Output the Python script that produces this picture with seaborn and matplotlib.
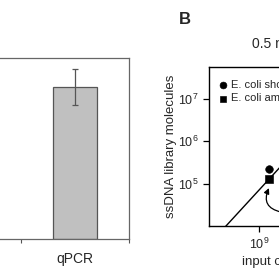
import numpy as np
import pandas as pd
import matplotlib
matplotlib.use("Agg")
import matplotlib.pyplot as plt
import seaborn as sns

# ---- data ----
bar_categories = ["qPCR"]
bar_values = [0.84]
bar_errors = [0.10]

series_names = ["E. coli shotgun", "E. coli amplicon"]
series_x = [1.8e9, 1.8e9]
series_y = [2.2e5, 1.28e5]
series_markers = ["o", "s"]

line_x = [1.0e7, 1.0e13]
line_ratio = 10 ** -4.154
line_y = [v * line_ratio for v in line_x]

sns.set_theme(style="white")
plt.rcParams['font.family'] = ['Liberation Sans', 'DejaVu Sans']

W = H = 279
fig = plt.figure(figsize=(2.79, 2.79), dpi=100)

def box(l, t, r, b):
    return [l / W, (H - b) / H, (r - l) / W, (b - t) / H]

# ---- left panel (bar chart) ----
ax1 = fig.add_axes(box(-87, 58, 129, 239))
df = pd.DataFrame({"cat": bar_categories, "val": bar_values})
sns.barplot(data=df, x="cat", y="val", color="#c0c0c0", edgecolor="#555555",
            linewidth=0.9, width=0.41, ax=ax1, saturation=1, errorbar=None)
ax1.errorbar(np.arange(len(bar_categories)), bar_values, yerr=bar_errors,
             fmt="none", ecolor="#555555", elinewidth=0.9, capsize=2, capthick=0.9)
ax1.set_xlim(-1.5, 0.5)
ax1.set_ylim(0, 1.0)
ax1.set_xlabel("")
ax1.set_ylabel("")
ax1.set_yticks([])
ax1.set_xticks([0])
ax1.set_xticklabels(bar_categories, fontsize=10)
ax1.set_xticks([-0.5, 0.5], minor=True)
ax1.tick_params(axis="x", which="major", length=0, pad=9)
ax1.tick_params(axis="x", which="minor", length=3, width=0.8, color="#555555", direction="out", bottom=True)
for s in ax1.spines.values():
    s.set_color("#666666")
    s.set_linewidth(0.9)

# ---- right panel (log-log) ----
ax2 = fig.add_axes(box(209, 67, 409, 226))
sns.lineplot(x=line_x, y=line_y, color="black", linewidth=1.0, ax=ax2)
for name, xv, yv, mk in zip(series_names, series_x, series_y, series_markers):
    sns.scatterplot(x=[xv], y=[yv], marker=mk, color="black", s=30,
                    edgecolor="black", label=name, ax=ax2)
ax2.set_xscale("log")
ax2.set_yscale("log")
ax2.set_xlim(10 ** 7.718, 10 ** 12.85)
ax2.set_ylim(1e4, 10 ** 7.75)
ax2.set_xticks([1e9])
ax2.set_yticks([1e5, 1e6, 1e7])
ax2.minorticks_off()
ax2.tick_params(axis="both", which="major", length=4, width=0.9, direction="out",
                labelsize=9, bottom=True, left=True, color="black")
for s in ax2.spines.values():
    s.set_color("black")
    s.set_linewidth(1.0)
ax2.set_ylabel("ssDNA library molecules", fontsize=9.5, labelpad=1)
ax2.set_xlabel("input copies", fontsize=9.5, ha="left")
ax2.xaxis.set_label_coords((242 - 209) / 200, -0.19)
ax2.annotate("", xy=(10 ** 9.256, 10 ** 4.894), xytext=(10 ** 9.564, 10 ** 4.33),
             arrowprops=dict(arrowstyle="-|>", color="black", lw=0.9,
                             connectionstyle="arc3,rad=-0.6", mutation_scale=8,
                             shrinkA=0, shrinkB=0))
leg = ax2.legend(loc="upper left", frameon=False, fontsize=8, handletextpad=0.05,
                 borderaxespad=0.3, labelspacing=0.35, markerscale=0.9,
                 bbox_to_anchor=(0.0, 0.97), handlelength=1.2)

fig.text(185 / W, 1 - 19 / H, "B", fontsize=12, fontweight="bold", ha="center", va="center")
fig.text(252 / W, 1 - 44 / H, "0.5 ng", fontsize=10, ha="left", va="center")

fig.savefig("out.png", dpi=100, facecolor="white")
